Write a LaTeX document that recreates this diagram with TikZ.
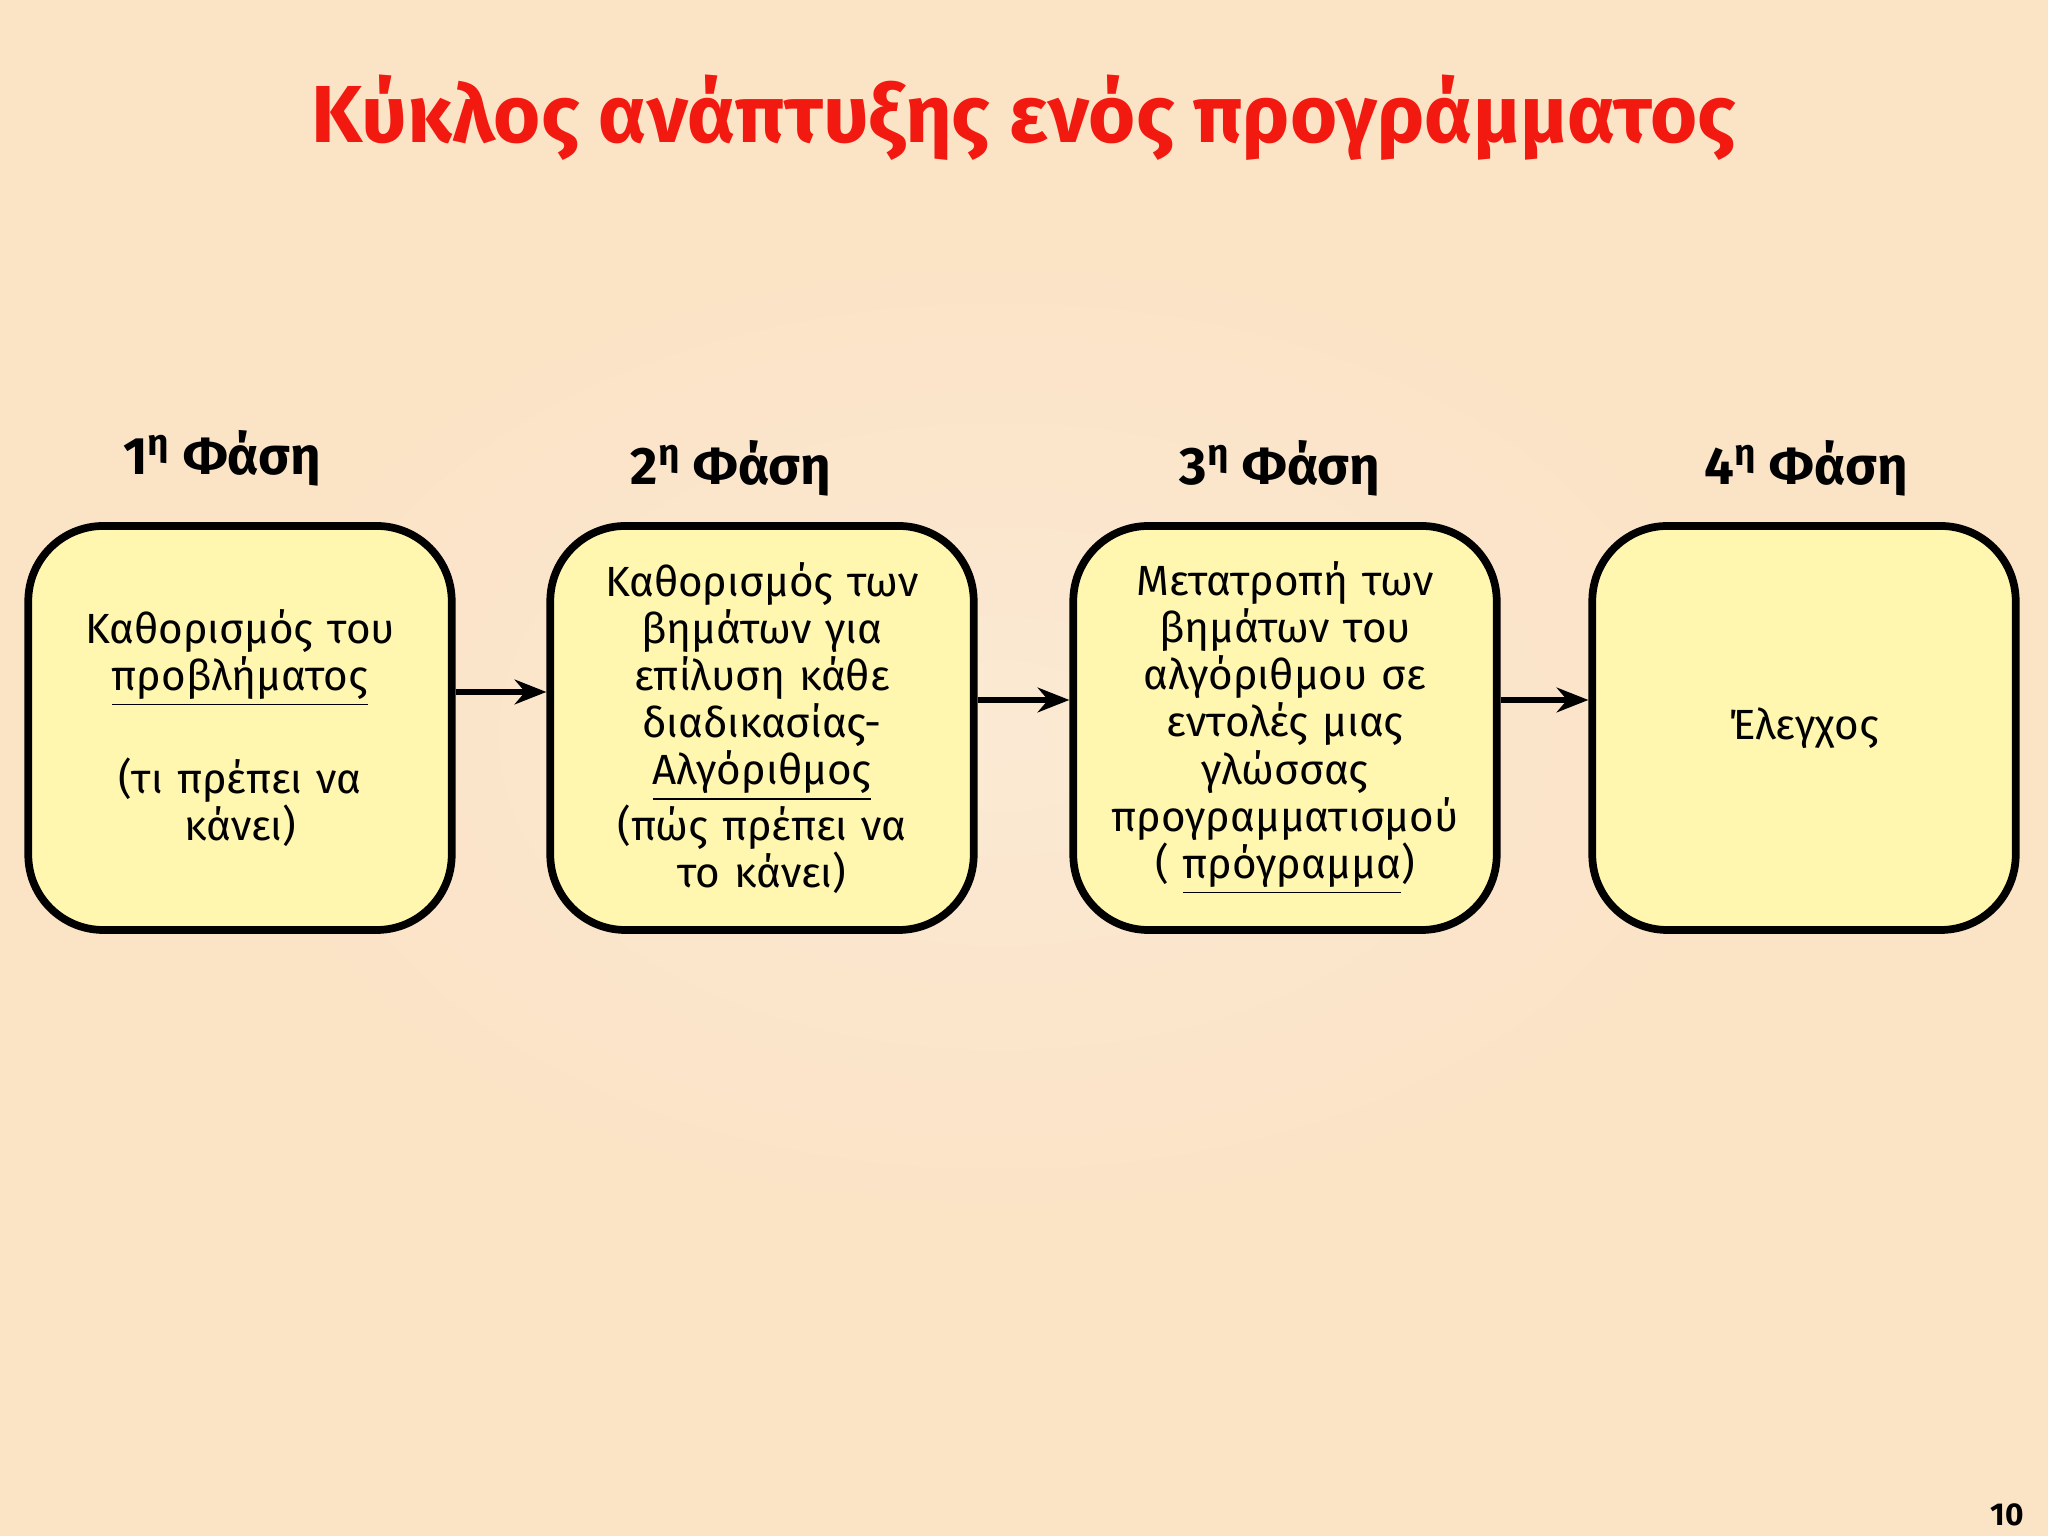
\documentclass[tikz,border=0pt]{standalone}
\usepackage{fontspec}
\setmainfont{Fira Sans}
\usetikzlibrary{arrows.meta}
\definecolor{bg}{HTML}{FBE3C6}
\definecolor{boxfill}{HTML}{FFF6B0}
\definecolor{titlered}{HTML}{F21A10}
\tikzset{
 phasebox/.style={draw=black, line width=2.2pt, rounded corners=0.75cm, fill=boxfill,
   minimum width=4.22cm, minimum height=4.04cm, align=center, font=\fontsize{12}{13.4}\selectfont, text width=4.0cm},
 phaselabel/.style={font=\bfseries\fontsize{15}{18}\selectfont},
 conn/.style={-{Stealth[length=9pt,width=7pt]}, line width=1.8pt}
}
\begin{document}
\begin{tikzpicture}
\fill[bg] (0,0) rectangle (20.48,15.36);
\shade[inner color=white!40!bg, outer color=bg, opacity=0.6] (2,3) rectangle (18,13);
\useasboundingbox (0,0) rectangle (20.48,15.36);
\node[text=titlered, font=\bfseries\fontsize{23}{26}\selectfont] (title) at (10.24,14.18) {Κύκλος ανάπτυξης ενός προγράμματος};
\node[phaselabel] (l1) at (2.22,10.78) {1\textsuperscript{η} Φάση};
\node[phaselabel] (l2) at (7.31,10.68) {2\textsuperscript{η} Φάση};
\node[phaselabel] (l3) at (12.80,10.68) {3\textsuperscript{η} Φάση};
\node[phaselabel] (l4) at (18.06,10.68) {4\textsuperscript{η} Φάση};
\node[phasebox] (b1) at (2.40,8.08) {Καθορισμός του\\ \underline{προβλήματος}\\[13.4pt] (τι πρέπει να\\ κάνει)};
\node[phasebox] (b2) at (7.62,8.08) {Καθορισμός των\\ βημάτων για\\ επίλυση κάθε\\ διαδικασίας-\\ \underline{Αλγόριθμος}\\ (πώς πρέπει να\\ το κάνει)};
\node[phasebox] (b3) at (12.85,8.08) {Μετατροπή των\\ βημάτων του\\ αλγόριθμου σε\\ εντολές μιας\\ γλώσσας\\ προγραμματισμού\\ ( \underline{πρόγραμμα})};
\node[phasebox] (b4) at (18.04,8.08) {Έλεγχος};
\draw[conn] (b1.east) ++(0,0.36) coordinate (s1) -- (s1 -| b2.west);
\draw[conn] (b2.east) ++(0,0.28) coordinate (s2) -- (s2 -| b3.west);
\draw[conn] (b3.east) ++(0,0.28) coordinate (s3) -- (s3 -| b4.west);
\node[font=\bfseries\fontsize{9}{10}\selectfont] (pg) at (20.07,0.21) {10};
\end{tikzpicture}
\end{document}
